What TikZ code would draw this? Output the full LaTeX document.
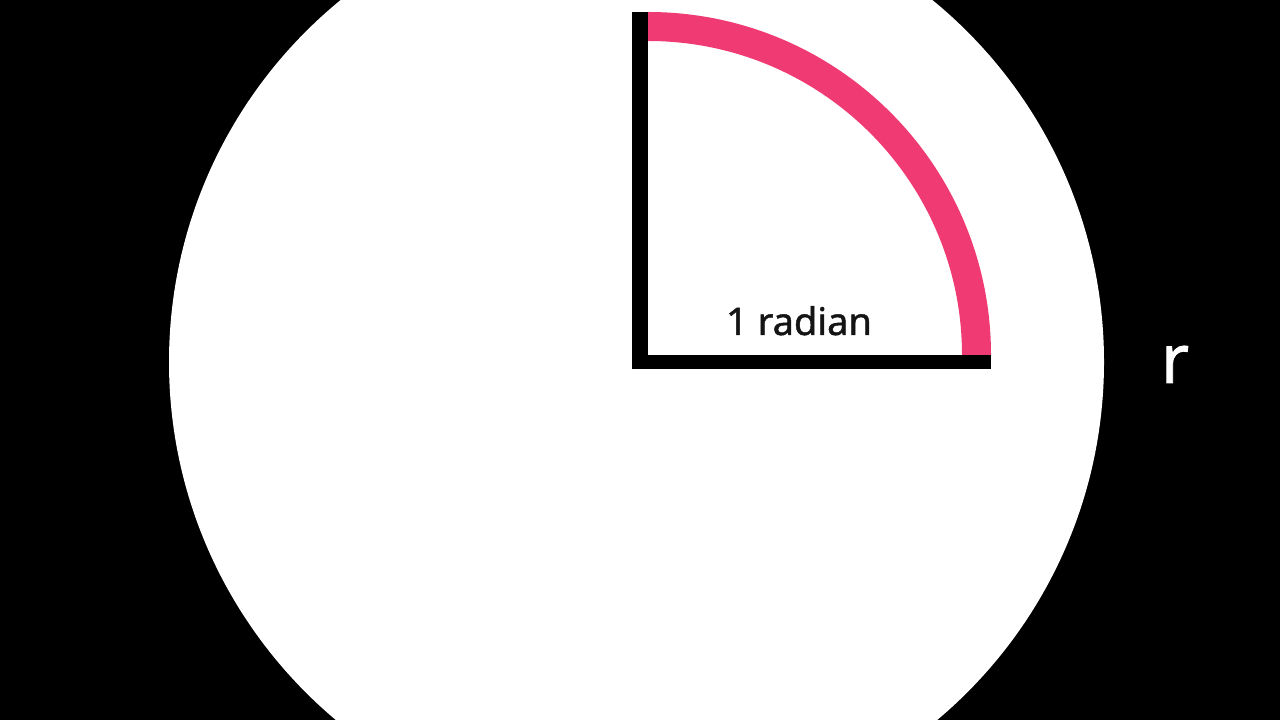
\documentclass[tikz,border=0pt]{standalone}
\usepackage{fontspec}
\setmainfont{Noto Sans}
\newfontfamily\medf[FakeBold=1.2]{Noto Sans}
\definecolor{arcpink}{RGB}{240,58,116}
\definecolor{ink}{RGB}{20,20,20}
\begin{document}
\begin{tikzpicture}[x=1pt,y=1pt,
  lbl/.style={inner sep=0pt, anchor=base}]
\useasboundingbox (0,0) rectangle (1280,720);
\fill[black] (0,0) rectangle (1280,720);
\begin{scope}
\clip (0,0) rectangle (1280,720);
\fill[white] (636.5,358) circle[radius=467.5pt];
\end{scope}
% pink arc
\coordinate (o) at (648,365);
\coordinate (top) at (648,693.5);
\draw[arcpink, line width=29pt] (top) arc[start angle=90, end angle=0, radius=328.5pt] coordinate (right);
% black right angle
\fill[black] (632,351) rectangle (648,708);
\fill[black] (632,351) rectangle (991,365);
\node[lbl, font=\medf\fontsize{38}{38}\selectfont, text=ink] (rad) at (799,385) {1 radian};
\node[lbl, font=\medf\fontsize{68}{68}\selectfont, text=white] (r) at (1175,337) {r};
\end{tikzpicture}
\end{document}
